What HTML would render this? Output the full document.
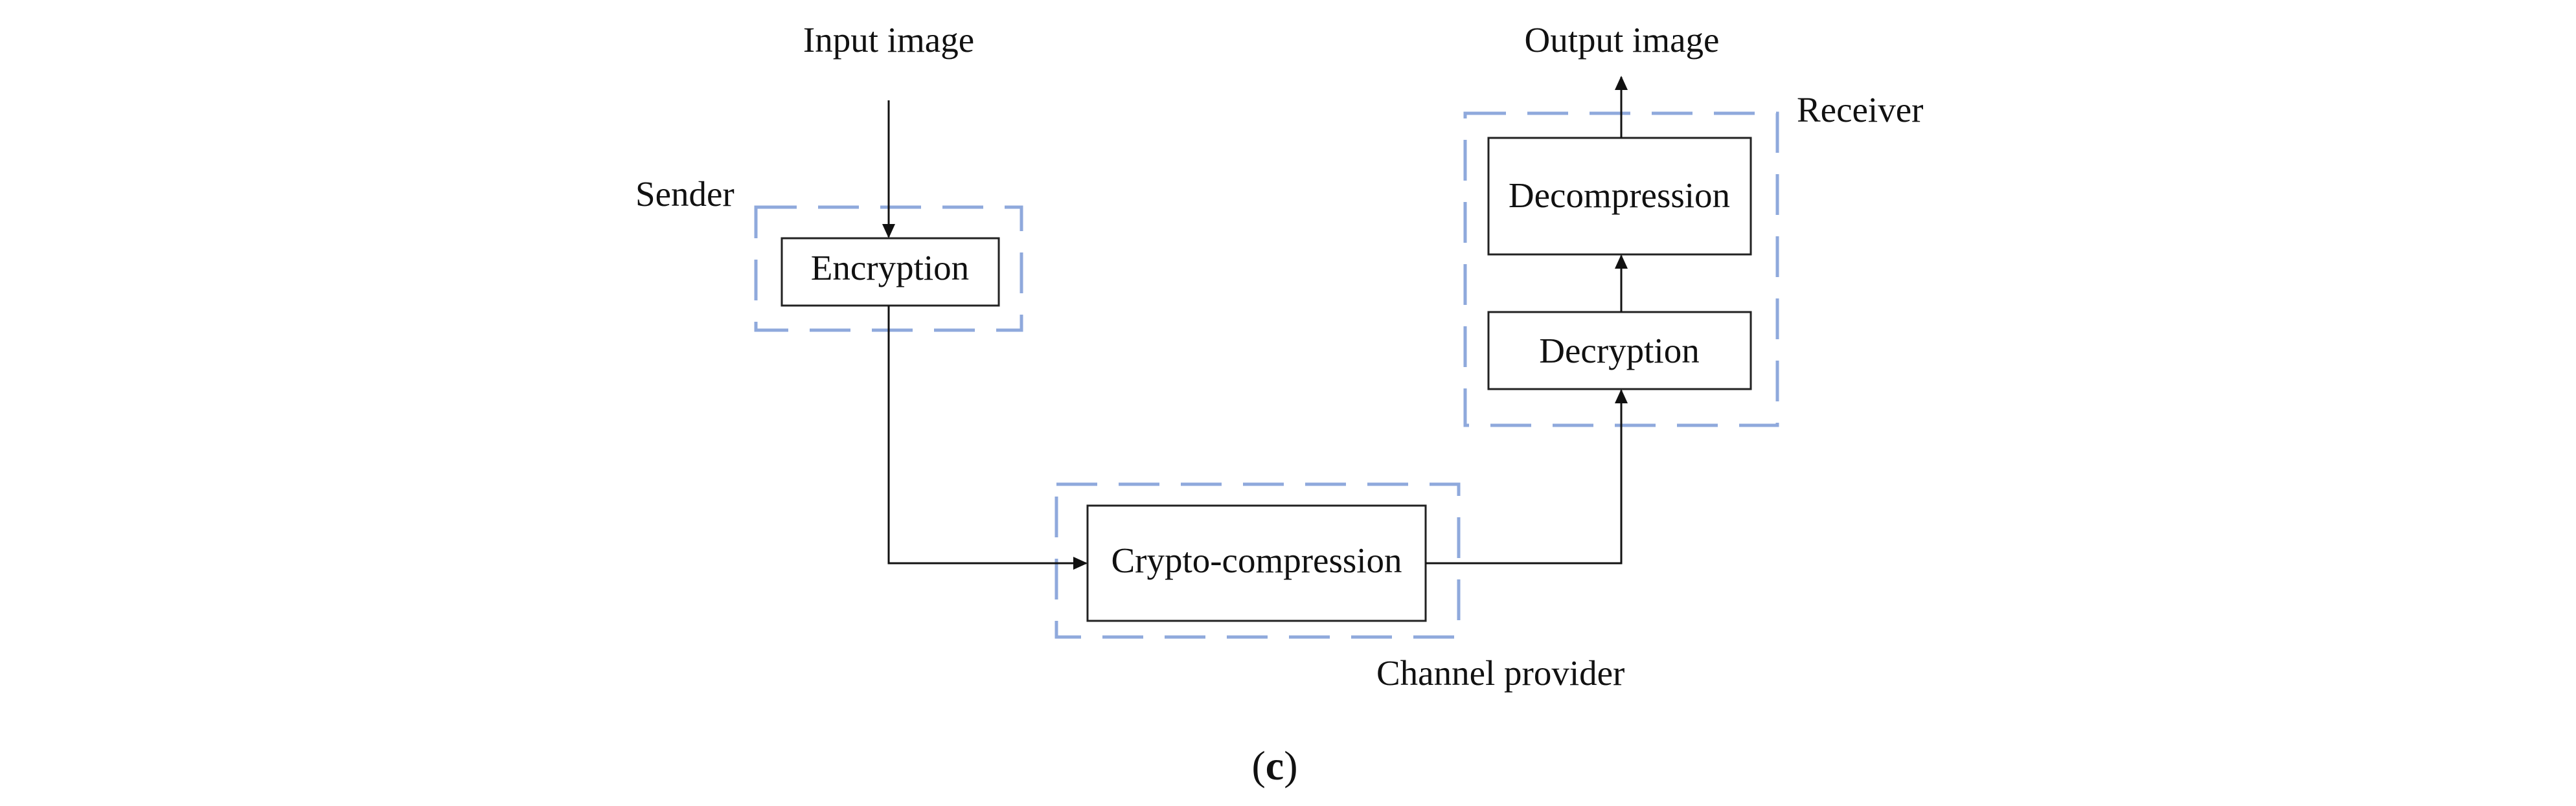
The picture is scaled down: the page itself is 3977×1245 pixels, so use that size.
<!DOCTYPE html>
<html><head><meta charset="utf-8"><style>
html,body{margin:0;padding:0;background:#fff;}
svg{display:block;}
text{font-family:"Liberation Serif",serif;font-size:55px;fill:#111;}
</style></head><body>
<svg width="3977" height="1245" viewBox="0 0 3977 1245" xmlns="http://www.w3.org/2000/svg">
<defs>
<marker id="a" markerWidth="8" markerHeight="8" refX="7" refY="4" orient="auto" markerUnits="userSpaceOnUse" viewBox="0 0 8 8">
<path d="M0,0 L8,4 L0,8 z" fill="#111"/>
</marker>
</defs>
<g fill="none" stroke="#8fa9dc" stroke-width="5" stroke-dasharray="63,33">
<rect x="1167" y="320" width="410" height="190"/>
<rect x="1631" y="748" width="621" height="236"/>
<rect x="2262" y="175" width="482" height="482"/>
</g>
<g fill="#fff" stroke="#222" stroke-width="3">
<rect x="1207" y="368" width="335" height="104"/>
<rect x="1679" y="781" width="522" height="178"/>
<rect x="2298" y="213" width="405" height="180"/>
<rect x="2298" y="482" width="405" height="119"/>
</g>
<g stroke="#111" stroke-width="3" fill="none">
<line x1="1372" y1="155" x2="1372" y2="366"/>
<polyline points="1372,472 1372,870 1677,870"/>
<polyline points="2201,870 2503,870 2503,603"/>
<line x1="2503" y1="482" x2="2503" y2="395"/>
<line x1="2503" y1="213" x2="2503" y2="119"/>
</g>
<g fill="#111">
<path d="M1362,346 L1382,346 L1372,368 z"/>
<path d="M1657,860 L1657,880 L1679,870 z"/>
<path d="M2493,623 L2513,623 L2503,601 z"/>
<path d="M2493,415 L2513,415 L2503,393 z"/>
<path d="M2493,139 L2513,139 L2503,117 z"/>
</g>
<text x="1372" y="80" text-anchor="middle">Input image</text>
<text x="2504" y="80" text-anchor="middle">Output image</text>
<text x="981" y="318">Sender</text>
<text x="2774" y="188">Receiver</text>
<text x="1374" y="432" text-anchor="middle">Encryption</text>
<text x="1940" y="884" text-anchor="middle">Crypto-compression</text>
<text x="2500" y="320" text-anchor="middle">Decompression</text>
<text x="2500" y="560" text-anchor="middle">Decryption</text>
<text x="2125" y="1058">Channel provider</text>
<text x="1968" y="1204" text-anchor="middle" style="font-size:64px">(<tspan font-weight="bold">c</tspan>)</text>
</svg>
</body></html>
